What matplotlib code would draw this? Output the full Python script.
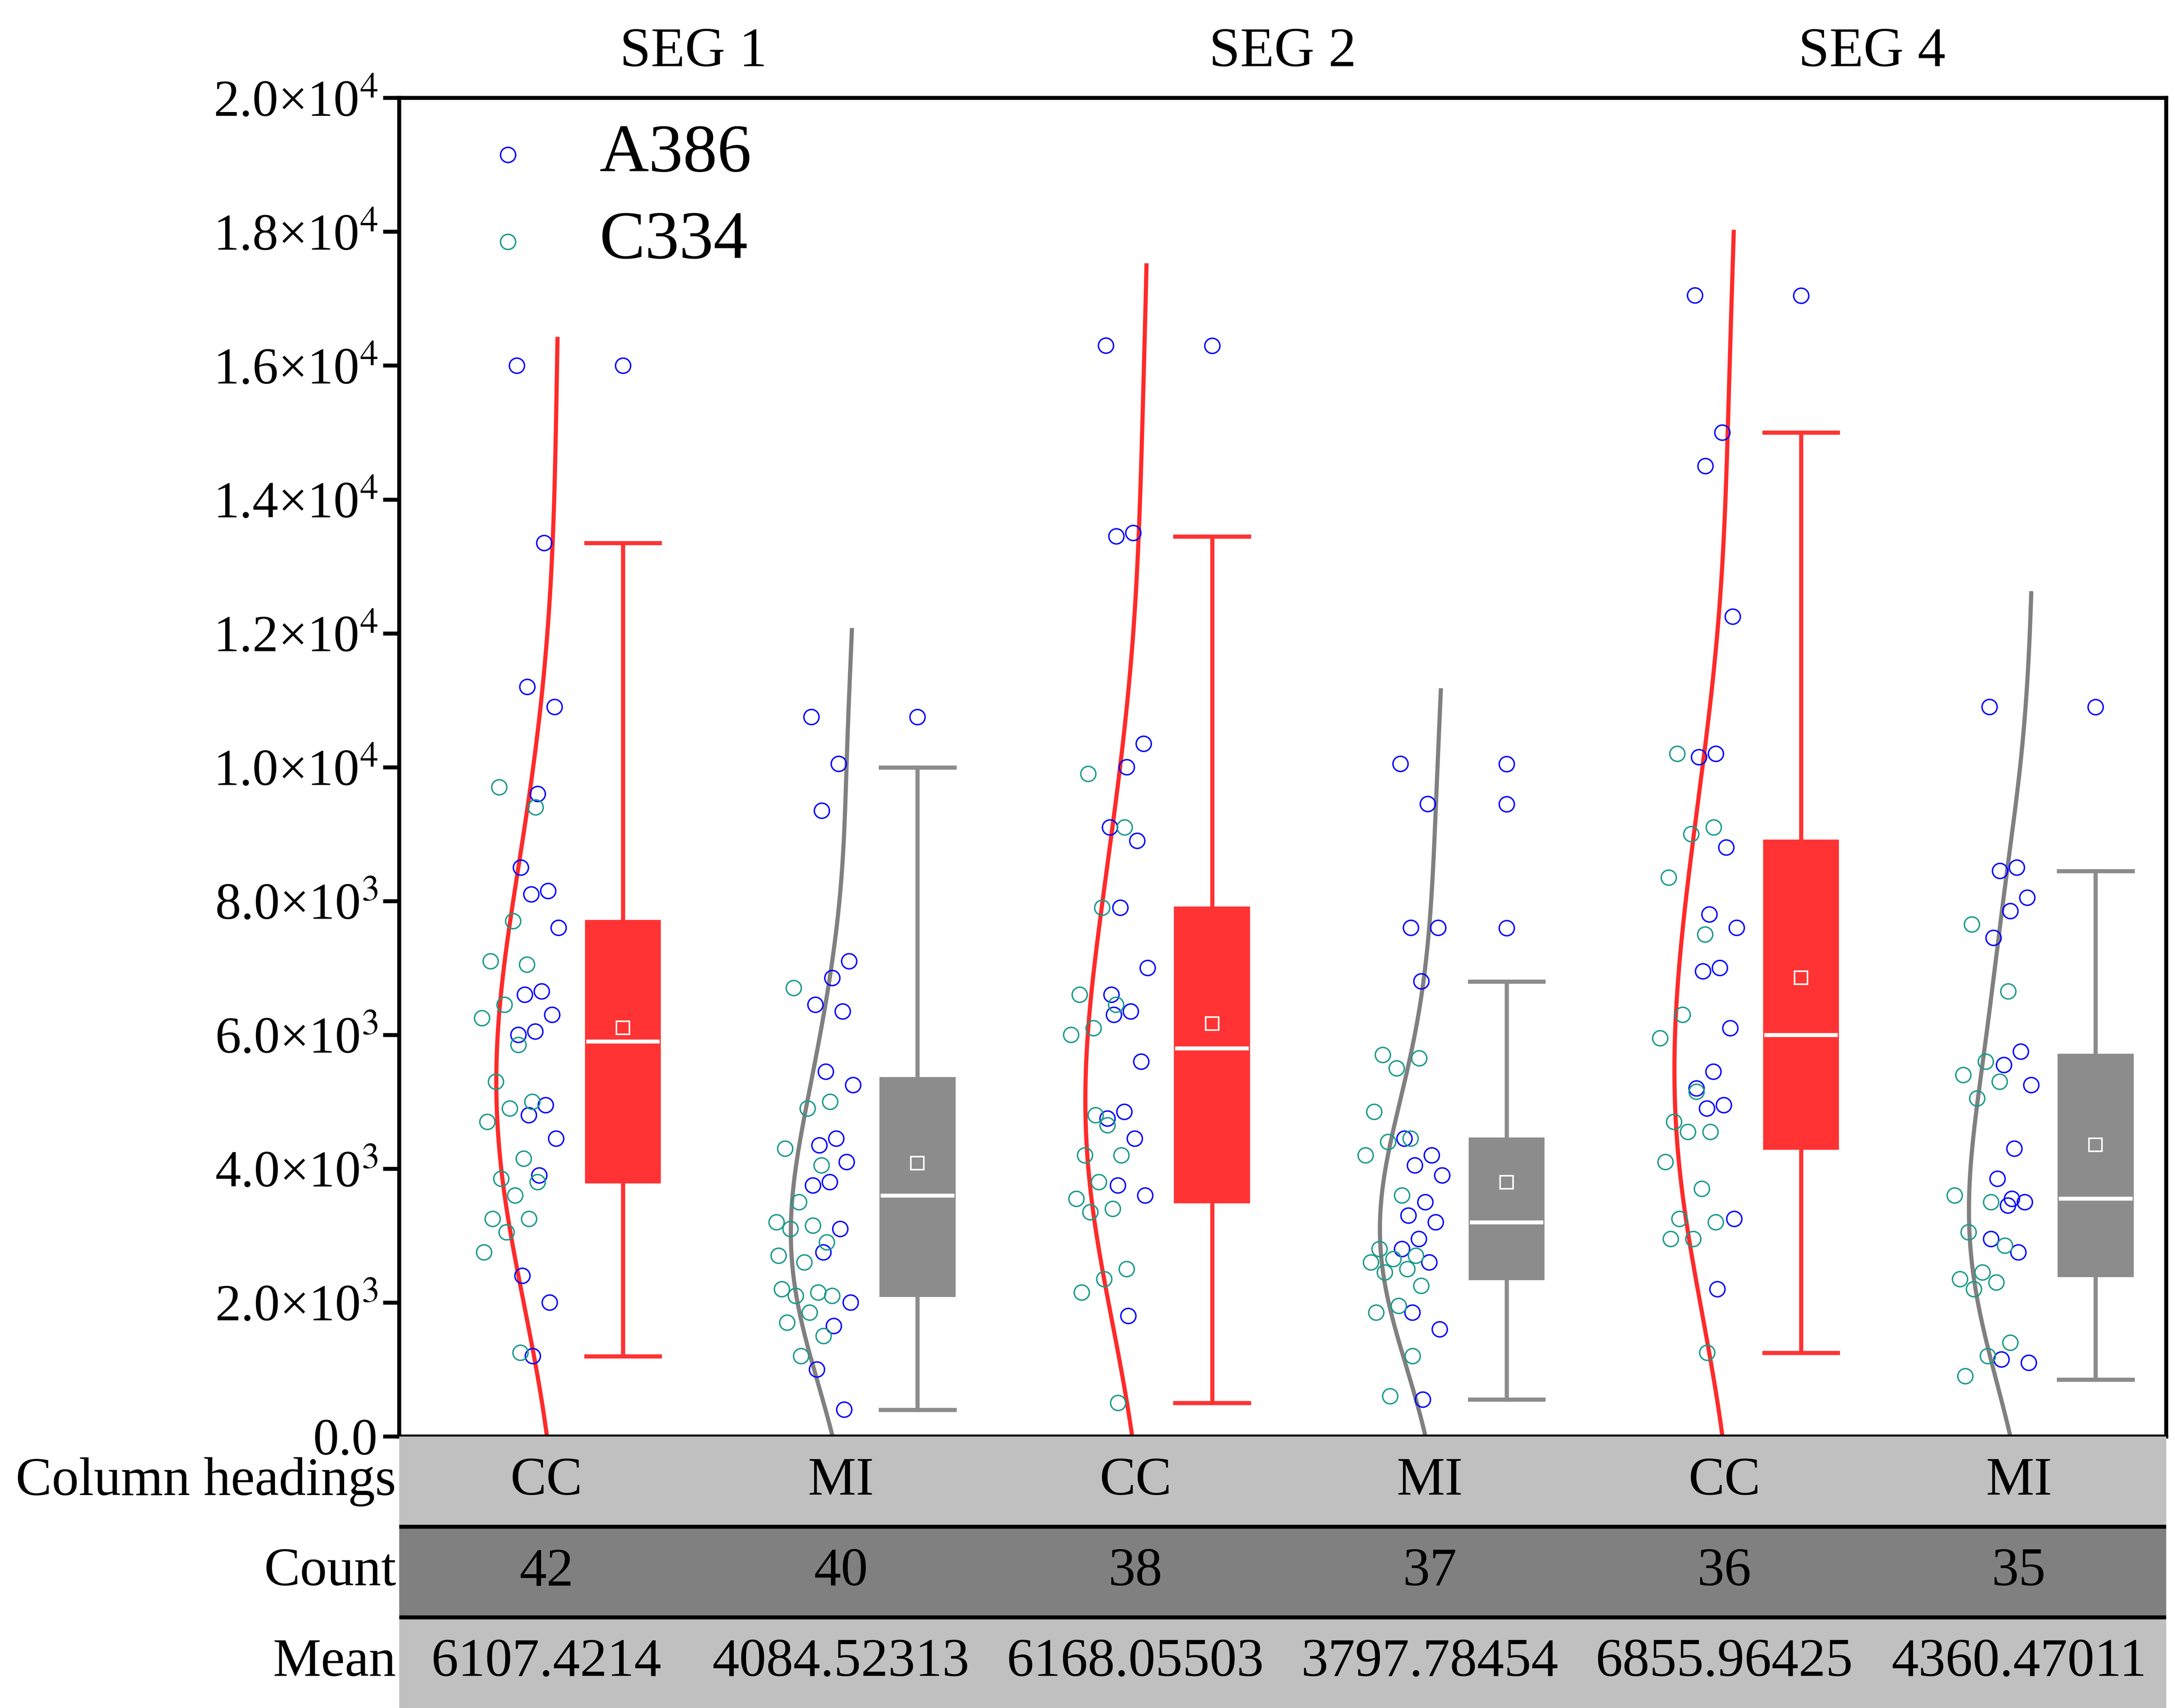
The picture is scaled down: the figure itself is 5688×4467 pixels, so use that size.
import numpy as np
import matplotlib
matplotlib.use("Agg")
import matplotlib.pyplot as plt
from matplotlib.patches import Rectangle

plt.rcParams['font.family'] = ['Liberation Serif', 'DejaVu Serif']
plt.rcParams['mathtext.fontset'] = 'stix'

segments = ["SEG 1", "SEG 2", "SEG 4"]
columns = ["CC", "MI", "CC", "MI", "CC", "MI"]
counts = [42, 40, 38, 37, 36, 35]
means = ["6107.4214", "4084.52313", "6168.05503", "3797.78454", "6855.96425", "4360.47011"]
mean_vals = [6107.4214, 4084.52313, 6168.05503, 3797.78454, 6855.96425, 4360.47011]

a386 = [
    [16000, 13350, 11200, 10900, 9600, 8500, 8150, 8100, 7600, 6650, 6600, 6300, 6050, 6000, 4950, 4800, 4450, 3900, 2400, 2000, 1200],
    [10750, 10050, 9350, 7100, 6850, 6450, 6350, 5450, 5250, 4450, 4350, 4100, 3800, 3750, 3100, 2750, 2000, 1650, 1000, 400],
    [16300, 13500, 13450, 10350, 10000, 9100, 8900, 7900, 7000, 6350, 6300, 5600, 4850, 4750, 4450, 3750, 3600, 1800, 6600],
    [10050, 9450, 7600, 7600, 6800, 4450, 4200, 4050, 3900, 3500, 3300, 3200, 2950, 2800, 2600, 1850, 1600, 550],
    [17050, 15000, 14500, 12250, 10200, 10150, 8800, 7800, 7600, 7000, 6950, 6100, 5450, 5200, 4950, 4900, 3250, 2200],
    [10900, 8500, 8450, 8050, 7850, 7450, 5750, 5550, 5250, 4300, 3850, 3500, 3450, 2950, 2750, 1150, 1100, 3550],
]
c334 = [
    [9700, 9400, 7700, 7100, 7050, 6450, 6250, 5850, 5300, 5000, 4900, 4700, 4150, 3850, 3800, 3600, 3250, 3250, 3050, 2750, 1250],
    [6700, 5000, 4900, 4300, 4050, 3500, 3200, 3150, 3100, 2900, 2600, 2200, 2150, 2100, 2100, 1850, 1700, 1500, 1200, 2700],
    [9900, 9100, 7900, 6600, 6450, 6100, 6000, 4650, 4200, 4200, 3800, 3550, 3400, 3350, 2500, 2350, 2150, 500, 4800],
    [5700, 5650, 5500, 4850, 4450, 4400, 4200, 3600, 2800, 2700, 2650, 2600, 2500, 2450, 2250, 1950, 1850, 1200, 600],
    [10200, 9100, 9000, 8350, 7500, 6300, 5950, 5150, 4700, 4550, 4550, 4100, 3700, 3250, 3200, 2950, 2950, 1250],
    [7650, 6650, 5600, 5400, 5300, 5050, 3600, 3500, 3050, 2850, 2450, 2350, 2300, 2200, 1400, 1200, 900],
]
# box statistics
q1 = [3800, 2100, 3500, 2350, 4300, 2400]
med = [5900, 3600, 5800, 3200, 6000, 3550]
q3 = [7700, 5350, 7900, 4450, 8900, 5700]
wlo = [1200, 400, 500, 550, 1250, 850]
whi = [13350, 10000, 13450, 6800, 15000, 8450]
fliers = [[16000], [10750], [16300], [7600, 9450, 10050], [17050], [10900]]
curve_top = [16400, 12050, 17500, 11150, 18000, 12600]

colors = ["#ff3333", "#8c8c8c"] * 3
curve_colors = ["#ff2a2a", "#808080"] * 3

fig = plt.figure(figsize=(18.96, 14.89), dpi=300)
ax = fig.add_axes([0.1835, 0.159, 0.8125, 0.7836])
tax = fig.add_axes([0.1835, 0.0, 0.8125, 0.159])

positions = np.arange(1, 7)
for i, p in enumerate(positions):
    data = np.array(a386[i] + c334[i], dtype=float)
    ys = np.linspace(0, curve_top[i], 400)
    bw = 1.3 * 1.06 * data.std() * len(data) ** (-0.2)
    dens = np.exp(-0.5 * ((ys[:, None] - data[None, :]) / bw) ** 2).sum(1)
    dens = dens / dens.max() * 0.22
    ax.plot(p + 0.05 - dens, ys, color=curve_colors[i], lw=2.6, zorder=2)
    nb = len(a386[i])
    jb = np.array([(k * 0.618034) % 1 for k in range(nb)])
    ax.scatter(p - 0.1 + 0.15 * jb, a386[i], s=90, facecolors='none',
               edgecolors='#0000ff', linewidths=0.9, zorder=3)
    nc = len(c334[i])
    jc = np.array([(k * 0.618034 + 0.3) % 1 for k in range(nc)])
    ax.scatter(p - 0.22 + 0.2 * jc, c334[i], s=90, facecolors='none',
               edgecolors='#1a9a8a', linewidths=0.9, zorder=3)
    st = dict(med=med[i], q1=q1[i], q3=q3[i], whislo=wlo[i], whishi=whi[i],
              mean=mean_vals[i], fliers=fliers[i])
    c = colors[i]
    ax.bxp([st], positions=[p + 0.26], widths=0.25, patch_artist=True,
           showmeans=True, showfliers=True,
           boxprops=dict(facecolor=c, edgecolor=c, lw=1.5),
           medianprops=dict(color='white', lw=2.5),
           whiskerprops=dict(color=c, lw=2.6),
           capprops=dict(color=c, lw=2.6),
           capwidths=0.25,
           meanprops=dict(marker='s', markerfacecolor='none', markeredgecolor='white',
                          markersize=8, markeredgewidth=1.0),
           flierprops=dict(marker='o', markerfacecolor='none', markeredgecolor='#0000ff',
                           markersize=9.5, markeredgewidth=0.9),
           zorder=4)

ax.set_xlim(0.5, 6.5)
ax.set_ylim(0, 20000)
ax.set_xticks([])
yt = np.arange(0, 20001, 2000)
labs = []
for v in yt:
    if v == 0:
        labs.append("0.0")
    else:
        e = int(np.floor(np.log10(v)))
        labs.append(f"{v / 10**e:.1f}×10$^{{{e}}}$")
ax.set_yticks(yt)
ax.set_yticklabels(labs, fontsize=32.5)
ax.tick_params(axis='y', direction='out', length=10, width=2.5)
for s in ax.spines.values():
    s.set_linewidth(2.5)
for k, name in enumerate(segments):
    ax.text(1.5 + 2 * k, 20300, name, ha='center', va='bottom', fontsize=35)

ax.scatter([0.87], [19150], s=90, facecolors='none', edgecolors='#0000ff', linewidths=0.9)
ax.scatter([0.87], [17850], s=90, facecolors='none', edgecolors='#1a9a8a', linewidths=0.9)
ax.text(1.18, 19150, "A386", fontsize=43, va='center')
ax.text(1.18, 17850, "C334", fontsize=43, va='center')

tax.set_xlim(0.5, 6.5)
tax.set_ylim(0, 3)
tax.axis('off')
row_colors = ["#c0c0c0", "#808080", "#c0c0c0"]
row_y = [2, 1, 0]
rows = [columns, [str(c) for c in counts], means]
row_names = ["Column headings", "Count", "Mean"]
for r in range(3):
    tax.add_patch(Rectangle((0.5, row_y[r]), 6, 1, facecolor=row_colors[r], edgecolor='none'))
    for j in range(6):
        tax.text(positions[j], row_y[r] + 0.5, rows[r][j], ha='center', va='center', fontsize=34)
    tax.text(0.49, row_y[r] + 0.5, row_names[r], ha='right', va='center', fontsize=34)
for yy in [1, 2]:
    tax.plot([0.5, 6.5], [yy, yy], color='black', lw=2.5)

fig.savefig("out.png", dpi=300)
